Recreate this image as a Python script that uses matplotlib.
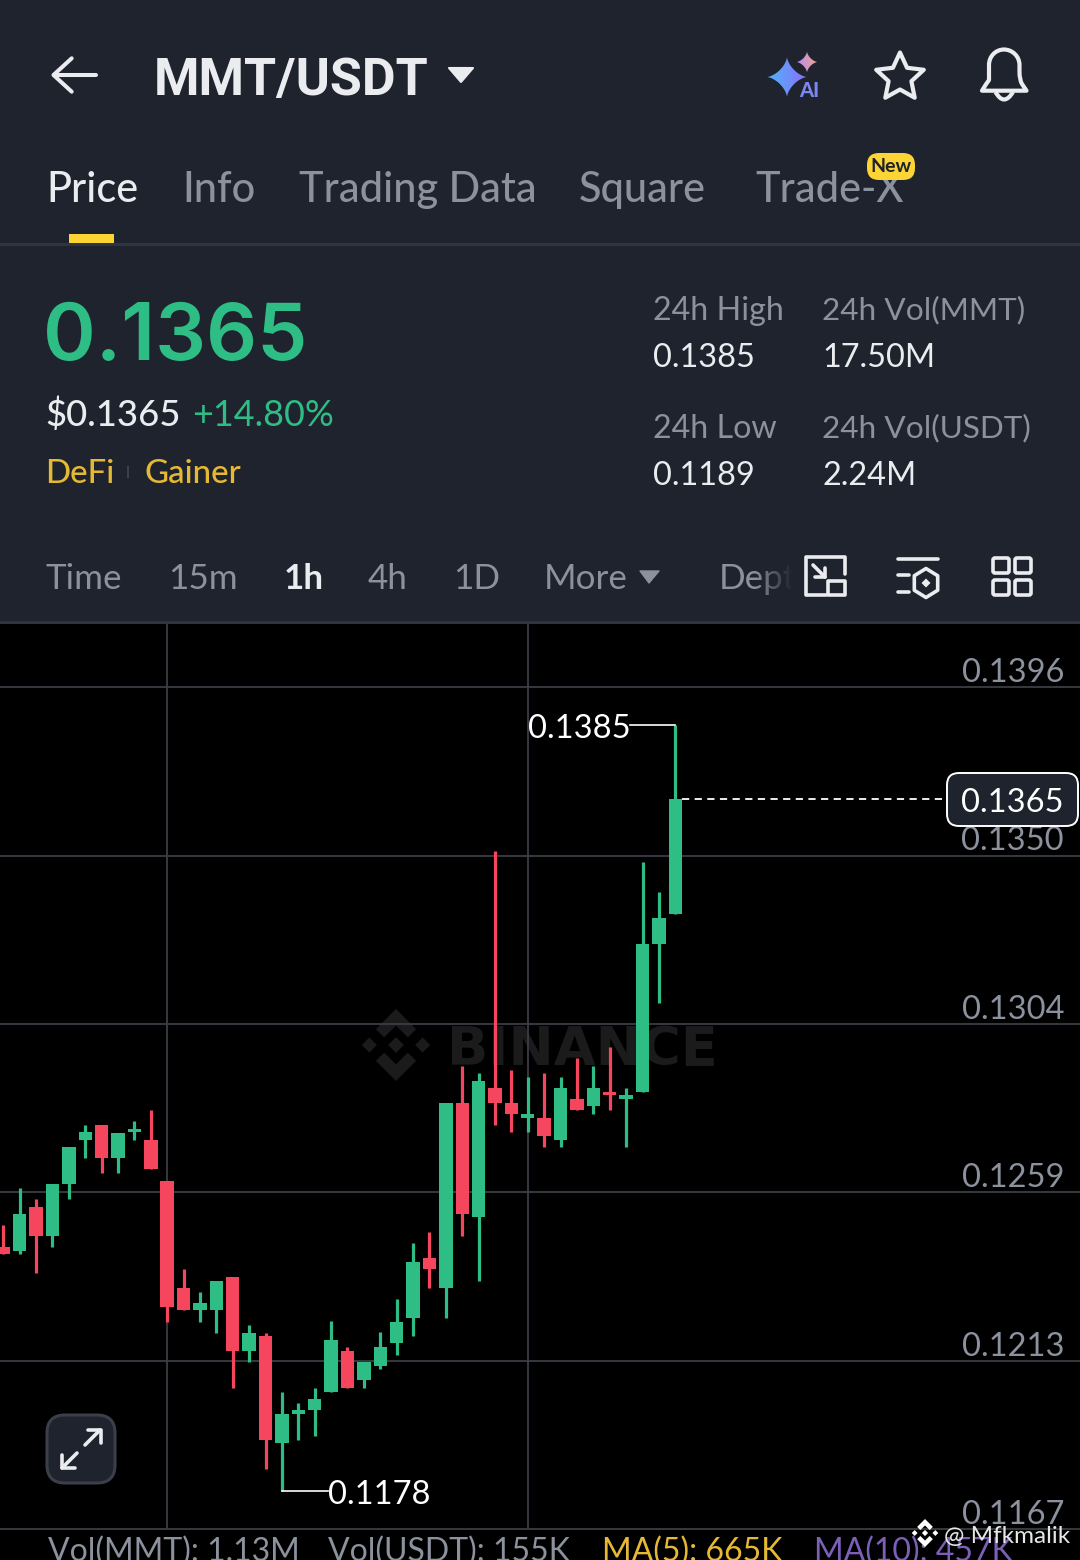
import numpy as np
import matplotlib
matplotlib.use('Agg')
import matplotlib.pyplot as plt
from matplotlib.patches import Polygon, Rectangle, FancyBboxPatch, PathPatch
from matplotlib.path import Path

# candles, one per hour
opens = [.12439, .12429, .12547, .12469, .12610, .12729, .12769, .12680, .12750, .12729, .12618,
         .12329, .12269, .12269, .12358, .12158, .12199, .11910, .11988, .11999, .12048,
         .12158, .12080, .12118, .12180, .12247, .12410, .12329, .12829, .12520, .12869,
         .12829, .12788, .12788, .12729, .12839, .12820, .12858, .12839, .12858, .13258, .13339]
highs = [.12499, .12599, .12569, .12610, .12710, .12769, .12769, .12747, .12780, .12810, .12618,
         .12380, .12318, .12348, .12358, .12229, .12207, .12048, .12018, .12058, .12239,
         .12169, .12129, .12210, .12299, .12450, .12480, .12829, .12929, .12910, .13510,
         .12918, .12899, .12910, .12899, .12950, .12929, .12980, .12869, .13480, .13399, .13850]
lows = [.12420, .12420, .12369, .12439, .12569, .12680, .12639, .12639, .12729, .12650, .12237,
        .12269, .12237, .12207, .12058, .12129, .11840, .11780, .11918, .11929, .12048,
        .12058, .12058, .12110, .12148, .12199, .12329, .12247, .12469, .12348, .12769,
        .12750, .12750, .12710, .12710, .12810, .12799, .12810, .12710, .12858, .13099, .13339]
closes = [.12420, .12529, .12469, .12610, .12710, .12750, .12680, .12747, .12758, .12650, .12277,
          .12269, .12288, .12348, .12158, .12207, .11918, .11988, .11999, .12029, .12188,
          .12058, .12129, .12169, .12237, .12399, .12380, .12829, .12529, .12888, .12829,
          .12799, .12799, .12739, .12869, .12810, .12869, .12850, .12850, .13258, .13329, .13650]

price_ticks = [.13953, .13497, .13042, .12587, .12132, .11677]
price_labels = ['0.1396', '0.1350', '0.1304', '0.1259', '0.1213', '0.1167']
time_grid = [10, 32]
last_price = 0.1365
high_mark = 0.1385
low_mark = 0.1178

tabs = ['Price', 'Info', 'Trading Data', 'Square', 'Trade-X']
intervals = ['Time', '15m', '1h', '4h', '1D', 'More', 'Depth']
footer = ['Vol(MMT): 1.13M', 'Vol(USDT): 155K', 'MA(5): 665K', 'MA(10): 457K']

BG = '#1e232d'
GREEN = '#2ebd85'
RED = '#f6465d'
WHITE = '#eaecef'
GREY = '#8b929e'
YELLOW = '#e6b935'
GRID = '#3b3d46'
FONT = 'Lato'
W, H = 1080, 1560

fig = plt.figure(figsize=(W / 100, H / 100), dpi=100, facecolor=BG)


def px_axes(x0, y0, x1, y1, **kw):
    return fig.add_axes([x0 / W, 1 - y1 / H, (x1 - x0) / W, (y1 - y0) / H], **kw)


# chart area, black panel down to the bottom edge
ax = px_axes(0, 624, W, H, facecolor='black')
ax.set_axis_off()
ax.add_patch(Rectangle((0, 0), 1, 1, transform=ax.transAxes, color='black', zorder=0))
ui = px_axes(0, 0, W, H, facecolor='none', zorder=5)
ui.set_axis_off()
ui.set_xlim(0, W)
ui.set_ylim(H, 0)


def logo(target, cx, cy, s, color, z):
    shapes = [[(0, -1), (.56, -.44), (.33, -.21), (0, -.54), (-.33, -.21), (-.56, -.44)],
              [(0, 1), (.56, .44), (.33, .21), (0, .54), (-.33, .21), (-.56, .44)],
              [(0, -.22), (.22, 0), (0, .22), (-.22, 0)],
              [(-.74, -.21), (-.53, 0), (-.74, .21), (-.95, 0)],
              [(.74, -.21), (.95, 0), (.74, .21), (.53, 0)]]
    for sh in shapes:
        pts = [(cx + a * s, cy + b * s) for a, b in sh]
        target.add_patch(Polygon(pts, closed=True, color=color, lw=0, zorder=z, transform=ui.transData))


# watermark sits under the candles
logo(ax, 396, 1045, 36, '#1b1b1b', 0.5)
ax.text(447, 1065, 'BINANCE', transform=ui.transData, fontsize=39, family='DejaVu Sans', weight='bold',
        color='#1b1b1b', zorder=0.5, ha='left', va='baseline')

ax.hlines(price_ticks, -1, 70, color=GRID, lw=1.3, zorder=1)
ax.vlines(time_grid, price_ticks[-1], 0.1500, color=GRID, lw=1.3, zorder=1)

idx = np.arange(len(opens))
o, h, l, c = map(np.array, (opens, highs, lows, closes))
colors = np.where(c >= o, GREEN, RED)
ax.vlines(idx, l, h, colors=colors, lw=2.3, zorder=3)
ax.bar(idx, np.abs(c - o), bottom=np.minimum(o, c), width=0.82, color=colors, lw=0, zorder=3)

ax.set_xlim((0 - 3.3) / 16.39, (W - 3.3) / 16.39)
ax.set_ylim(0.1385 - (H - 725) / 37005, 0.1385 + (725 - 624) / 37005)

for val, lab in zip(price_ticks, price_labels):
    ax.annotate(lab, (1, val), xycoords=('axes fraction', 'data'), xytext=(-11.5, 3.7),
                textcoords='offset points', ha='right', va='baseline', color=GREY,
                fontsize=23.5, family=FONT, zorder=4)

# high / low markers and the last price line
hi_i, lo_i = int(np.argmax(h)), int(np.argmin(l))
ax.plot([hi_i - 2.75, hi_i], [high_mark, high_mark], color='white', lw=1.2, zorder=4)
ax.annotate('0.1385', (hi_i - 2.75, high_mark), xytext=(0, -9), textcoords='offset points', ha='right',
            va='baseline', color='white', fontsize=23.5, family=FONT, zorder=4)
ax.plot([lo_i, lo_i + 2.8], [low_mark, low_mark], color='white', lw=1.2, zorder=4)
ax.annotate('0.1178', (lo_i + 2.8, low_mark), xytext=(0, -9.5), textcoords='offset points', ha='left',
            va='baseline', color='white', fontsize=23.5, family=FONT, zorder=4)
ax.plot([41.4, 57.5], [last_price, last_price], color='white', lw=1.3, dashes=(4, 3), zorder=4)
ui.add_patch(FancyBboxPatch((955, 781), 115, 37, boxstyle='round,pad=8,rounding_size=12',
                            fc=BG, ec='white', lw=1.4, zorder=1))
ui.text(1064, 812, '%.4f' % last_price, ha='right', va='baseline', color='white', fontsize=23.5,
        family=FONT, zorder=2)


def txt(x, y, s, px, color=WHITE, weight='normal', font=FONT):
    return ui.text(x, y, s, fontsize=px * 0.72, color=color, weight=weight, ha='left', va='baseline',
                   family=font, zorder=3)


# header
txt(154, 95, 'MMT/USDT', 52, WHITE, 'bold', 'Roboto')
for x, lab in zip([46, 182, 299, 579, 755], tabs):
    txt(x, 202, lab, 41.5, WHITE if lab == 'Price' else GREY, 'medium')
ui.add_patch(Rectangle((0, 243), W, 3, color='#2f343e', lw=0))
ui.add_patch(Rectangle((69, 234), 45, 9, color='#fcd535', lw=0))
ui.add_patch(FancyBboxPatch((875, 161), 32, 11, boxstyle='round,pad=8,rounding_size=12', fc='#fcd535', lw=0, zorder=4))
ui.text(891, 167, 'New', fontsize=14, family=FONT, weight='bold', color='#1e2329', ha='center', va='center', zorder=5)

# price block
txt(43, 360, '0.1365', 80, GREEN, 'semibold', 'Inter')
txt(45, 426, '$0.1365', 36.5, WHITE, 'medium')
txt(192, 426, '+14.80%', 36, GREEN)
txt(45, 483, 'DeFi', 33, YELLOW, 'medium')
txt(145, 483, 'Gainer', 33, YELLOW, 'medium')
ui.add_patch(Rectangle((127, 466), 2, 12, color='#3a3f49', lw=0))
txt(653, 320, '24h High', 32.3, GREY)
txt(653, 367, '0.1385', 32.5, WHITE)
txt(822, 319, '24h Vol(MMT)', 31.5, GREY)
txt(822, 367, '17.50M', 32.5, WHITE)
txt(653, 438, '24h Low', 32.3, GREY)
txt(653, 485, '0.1189', 32.5, WHITE)
txt(822, 437, '24h Vol(USDT)', 31.5, GREY)
txt(822, 485, '2.24M', 32.5, WHITE)

# interval row
for x, lab in zip([46, 168, 284, 368, 453, 544, 719], intervals):
    txt(x, 589, lab, 35, WHITE if lab == '1h' else GREY, 'bold' if lab == '1h' else 'normal')
fade = np.zeros((1, 60, 4))
fade[..., :3] = matplotlib.colors.to_rgb(BG)
fade[..., 3] = np.clip(np.linspace(0, 1.6, 60), 0, 1)
ui.imshow(fade, extent=(755, 815, 610, 555), aspect='auto', zorder=4)
ui.add_patch(Rectangle((0, 621), W, 3, color='#2f343e', lw=0, zorder=4))

# icons
ICON = dict(color=WHITE, lw=2.9, solid_capstyle='round', solid_joinstyle='round', zorder=5)
ui.plot([54, 96], [75, 75], **ICON)
ui.plot([71.7, 53.5, 71.7], [58.3, 75, 91.7], **ICON)
ui.add_patch(Polygon([(449, 68), (473, 68), (461, 82)], closed=True, fc=WHITE, ec=WHITE, lw=1.5, joinstyle='round'))
ui.add_patch(Polygon([(640, 571), (659, 571), (649, 583)], closed=True, fc=GREY, ec=GREY, lw=1, joinstyle='round', zorder=5))


def sparkle(cx, cy, r, c0, c1):
    t = np.linspace(0, 2 * np.pi, 64)
    xs = cx + r * np.sign(np.cos(t)) * np.abs(np.cos(t)) ** 3
    ys = cy + r * np.sign(np.sin(t)) * np.abs(np.sin(t)) ** 3
    patch = Polygon(np.c_[xs, ys], closed=True, transform=ui.transData, lw=0, fc='none')
    ui.add_patch(patch)
    a, b = np.array(matplotlib.colors.to_rgb(c0)), np.array(matplotlib.colors.to_rgb(c1))
    g = np.linspace(0, 1, 40)[None, :, None]
    im = ui.imshow(a + (b - a) * g, extent=(cx - r, cx + r, cy + r, cy - r), aspect='auto', zorder=5)
    im.set_clip_path(patch)


sparkle(787, 77, 20, '#4fb4f8', '#8a70fa')
sparkle(807, 62, 10.5, '#b98cf5', '#f0a58a')
ui.text(809, 97, 'AI', fontsize=14.5, family=FONT, weight='black', color='#7b86f5', ha='center', va='baseline', zorder=6)

ang = np.arange(10) * np.pi / 5 - np.pi / 2
rad = np.where(np.arange(10) % 2 == 0, 25, 12)
ui.add_patch(Polygon(np.c_[900 + rad * np.cos(ang), 77.5 + rad * np.sin(ang)], closed=True, fc='none',
                     ec=WHITE, lw=3, joinstyle='round', zorder=5))

bell = Path([(982, 90.7), (986, 84), (989, 80), (989, 72), (989, 65), (989, 56), (996, 49.5), (1004, 49.5),
             (1012, 49.5), (1019.5, 56), (1019.5, 65), (1019.5, 72), (1019.5, 80), (1022, 84), (1026.5, 90.7),
             (982, 90.7)],
            [Path.MOVETO, Path.CURVE3, Path.CURVE3, Path.LINETO, Path.LINETO, Path.CURVE4, Path.CURVE4, Path.CURVE4,
             Path.CURVE4, Path.CURVE4, Path.CURVE4, Path.LINETO, Path.CURVE3, Path.CURVE3, Path.LINETO, Path.CLOSEPOLY])
ui.add_patch(PathPatch(bell, fc='none', ec=WHITE, lw=3, joinstyle='round', zorder=5))
ui.add_patch(PathPatch(Path([(995.5, 92), (1004, 107), (1013, 92)], [Path.MOVETO, Path.CURVE3, Path.CURVE3]),
                       fc='none', ec=WHITE, lw=3, zorder=5))

ICON2 = dict(color=WHITE, lw=2.6, solid_capstyle='round', solid_joinstyle='round', zorder=5)
ui.plot([845, 845, 806, 806, 826], [574, 557, 557, 595, 595], **ICON2)
ui.add_patch(Rectangle((828, 581), 17, 14, fc='none', ec=WHITE, lw=2.6, joinstyle='round', zorder=5))
ui.plot([813, 825], [565, 577], **ICON2)
ui.plot([825, 825, 815], [568, 577, 577], **ICON2)
ui.plot([898, 938], [559, 559], **ICON2)
ui.plot([898, 909], [575, 575], **ICON2)
ui.plot([898, 909], [592, 592], **ICON2)
hang = np.arange(6) * np.pi / 3 - np.pi / 2
ui.add_patch(Polygon(np.c_[926 + 13.5 * np.cos(hang), 583 + 14.5 * np.sin(hang)], closed=True, fc='none',
                     ec=WHITE, lw=2.6, joinstyle='round', zorder=5))
ui.add_patch(Polygon([(926, 578.5), (930.5, 583), (926, 587.5), (921.5, 583)], closed=True, color=WHITE, lw=0, zorder=5))
for x0 in (993, 1015):
    for y0 in (558, 580):
        ui.add_patch(FancyBboxPatch((x0, y0), 16, 15, boxstyle='round,pad=0,rounding_size=2', fc='none',
                                    ec=WHITE, lw=2.6, zorder=5))

# expand button
ui.add_patch(FancyBboxPatch((63, 1431), 36, 36, boxstyle='round,pad=16,rounding_size=18', fc=BG, ec='#3a3f49',
                            lw=2.2, zorder=3))
EXP = dict(color=WHITE, lw=2.6, solid_capstyle='round', solid_joinstyle='round', zorder=5)
ui.plot([85, 100], [1445, 1430], **EXP)
ui.plot([88, 100.5, 100.5], [1430, 1430, 1443], **EXP)
ui.plot([77, 62], [1453, 1468], **EXP)
ui.plot([62, 62, 74.5], [1455, 1468, 1468], **EXP)

# footer, cut off by the lower edge
for x, lab, col in zip([48, 328, 602, 814], footer, [GREY, GREY, YELLOW, '#7c60b8']):
    txt(x, 1561, lab, 32, col)
logo(ui, 925, 1533, 14, 'white', 6)
ui.text(944, 1543, '@ Mfkmalik', fontsize=17.5, family=FONT, color='#e6e6e6', ha='left', va='baseline', zorder=6)

ui.set_xlim(0, W)
ui.set_ylim(H, 0)
fig.savefig('out.png', dpi=100, facecolor=BG)
